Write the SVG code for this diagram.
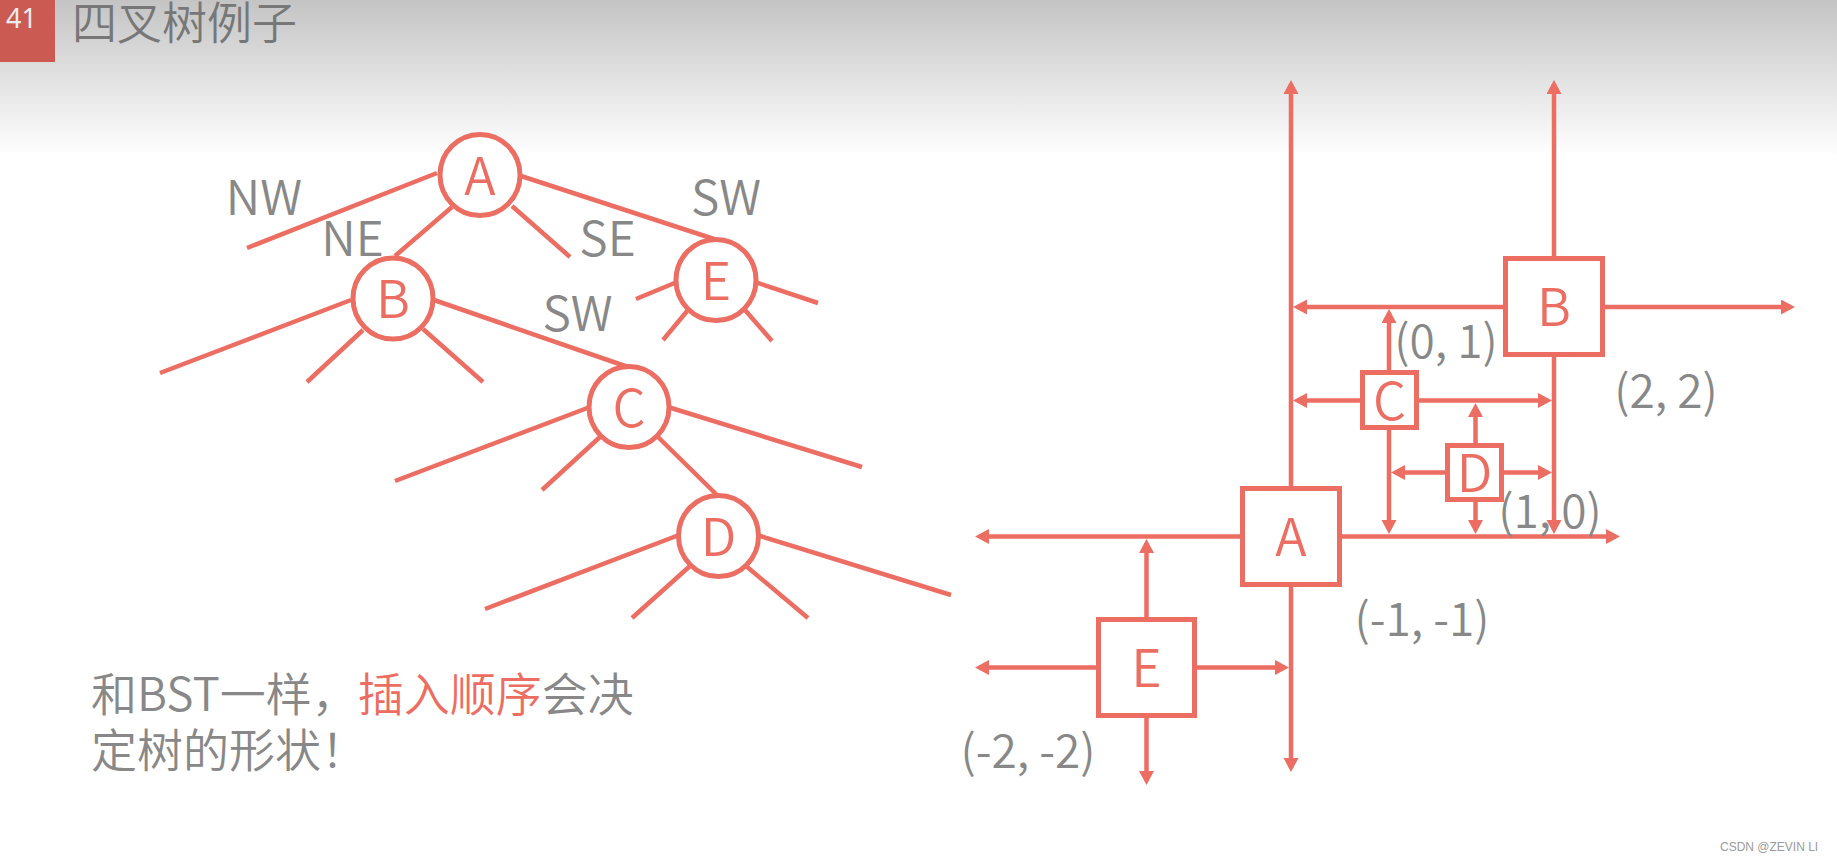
<svg xmlns="http://www.w3.org/2000/svg" width="1837" height="863" viewBox="0 0 1837 863">
  <defs>
    <linearGradient id="hdr" x1="0" y1="0" x2="0" y2="1">
      <stop offset="0" stop-color="#c4c4c4"/>
      <stop offset="1" stop-color="#ffffff"/>
    </linearGradient>
    <marker id="arr" markerUnits="userSpaceOnUse" markerWidth="16" markerHeight="16" refX="10" refY="7.5" orient="auto">
      <path d="M0,0 L14,7.5 L0,15 Z" fill="#ec6d62"/>
    </marker>
    <style>
      .tl { stroke: #ec6d62; stroke-width: 4.5; fill: none; }
      .cn { stroke: #ec6d62; stroke-width: 4.5; fill: none; marker-end: url(#arr); }
      .circ { fill: #ffffff; stroke: #ec6d62; stroke-width: 5; }
      .box { fill: #ffffff; stroke: #ec6d62; stroke-width: 5; }
      .nl { font-family: "Noto Sans CJK SC", "Noto Sans", sans-serif; font-weight: 350; font-size: 52px; fill: #ec6d62; text-anchor: middle; }
      .lbl { font-family: "Noto Sans CJK SC", "Noto Sans", sans-serif; font-weight: 350; font-size: 48px; fill: #888888; text-anchor: middle; }
      .crd { font-family: "Noto Sans CJK SC", "Noto Sans", sans-serif; font-weight: 350; font-size: 46px; fill: #888888; text-anchor: middle; }
      .body { font-family: "Noto Sans CJK SC", "Noto Sans", sans-serif; font-weight: 350; font-size: 46px; fill: #888888; }
    </style>
  </defs>

  <!-- header -->
  <rect x="0" y="0" width="1837" height="156" fill="url(#hdr)"/>
  <rect x="0" y="0" width="55" height="62" fill="#cb5a52"/>
  <text x="21.5" y="28" font-family="Noto Sans, sans-serif" font-size="27" fill="#ececec" text-anchor="middle">41</text>
  <text x="72" y="40" font-family="Noto Sans CJK SC, sans-serif" font-weight="350" font-size="45" fill="#777777">四叉树例子</text>

  <!-- tree edges -->
  <g id="tree-edges">
    <line class="tl" x1="437" y1="173" x2="247" y2="248"/>
    <line class="tl" x1="452" y1="207" x2="395" y2="256"/>
    <line class="tl" x1="512" y1="206" x2="570" y2="257"/>
    <line class="tl" x1="521" y1="176" x2="714" y2="239"/>
    <line class="tl" x1="351" y1="300" x2="160" y2="373"/>
    <line class="tl" x1="363" y1="330" x2="307" y2="382"/>
    <line class="tl" x1="423" y1="329" x2="483" y2="382"/>
    <line class="tl" x1="434" y1="300" x2="628" y2="367"/>
    <line class="tl" x1="677" y1="282" x2="636" y2="299"/>
    <line class="tl" x1="688" y1="310" x2="663" y2="340"/>
    <line class="tl" x1="745" y1="310" x2="772" y2="341"/>
    <line class="tl" x1="755" y1="282" x2="818" y2="303"/>
    <line class="tl" x1="590" y1="407" x2="395" y2="481"/>
    <line class="tl" x1="600" y1="437" x2="542" y2="490"/>
    <line class="tl" x1="658" y1="437" x2="718" y2="496"/>
    <line class="tl" x1="668" y1="407" x2="862" y2="467"/>
    <line class="tl" x1="679" y1="535" x2="485" y2="609"/>
    <line class="tl" x1="690" y1="566" x2="632" y2="618"/>
    <line class="tl" x1="746" y1="566" x2="808" y2="618"/>
    <line class="tl" x1="757" y1="535" x2="951" y2="595"/>
  </g>

  <!-- tree nodes -->
  <g id="tree-A"><ellipse class="circ" cx="480" cy="175" rx="40" ry="40.5"/><text class="nl" x="480" y="194.5">A</text></g>
  <g id="tree-B"><ellipse class="circ" cx="393" cy="298.5" rx="40" ry="40.5"/><text class="nl" x="393" y="318">B</text></g>
  <g id="tree-E"><ellipse class="circ" cx="716" cy="280" rx="40" ry="40.5"/><text class="nl" x="716" y="299.5">E</text></g>
  <g id="tree-C"><ellipse class="circ" cx="629" cy="407" rx="40" ry="40.5"/><text class="nl" x="629" y="426.5">C</text></g>
  <g id="tree-D"><ellipse class="circ" cx="718.5" cy="536" rx="40" ry="40.5"/><text class="nl" x="718.5" y="555.5">D</text></g>

  <!-- tree labels -->
  <g id="tree-labels">
    <text class="lbl" x="264" y="215">NW</text>
    <text class="lbl" x="352.5" y="256">NE</text>
    <text class="lbl" x="607.5" y="256">SE</text>
    <text class="lbl" x="726" y="215">SW</text>
    <text class="lbl" x="577.5" y="331">SW</text>
  </g>

  <!-- caption -->
  <g id="caption">
    <text class="body" x="91" y="711">和BST一样，<tspan fill="#ec6d62">插入顺序</tspan>会决</text>
    <text class="body" x="91" y="767">定树的形状！</text>
  </g>

  <!-- region connectors -->
  <g id="connectors">
    <line class="cn" x1="1291" y1="486" x2="1291" y2="84"/>
    <line class="cn" x1="1291" y1="587" x2="1291" y2="768"/>
    <line class="cn" x1="1240" y1="536.5" x2="979" y2="536.5"/>
    <line class="cn" x1="1342" y1="536.5" x2="1616" y2="536.5"/>
    <line class="cn" x1="1554" y1="256" x2="1554" y2="84"/>
    <line class="cn" x1="1554" y1="357" x2="1554" y2="530"/>
    <line class="cn" x1="1503" y1="307" x2="1297" y2="307"/>
    <line class="cn" x1="1605" y1="307" x2="1791" y2="307"/>
    <line class="cn" x1="1389" y1="370" x2="1389" y2="313"/>
    <line class="cn" x1="1389" y1="430" x2="1389" y2="530"/>
    <line class="cn" x1="1360" y1="400.5" x2="1297" y2="400.5"/>
    <line class="cn" x1="1419" y1="400.5" x2="1548" y2="400.5"/>
    <line class="cn" x1="1475.5" y1="443" x2="1475.5" y2="407"/>
    <line class="cn" x1="1475.5" y1="502" x2="1475.5" y2="530"/>
    <line class="cn" x1="1445" y1="472.5" x2="1395" y2="472.5"/>
    <line class="cn" x1="1504" y1="472.5" x2="1548" y2="472.5"/>
    <line class="cn" x1="1146.5" y1="617" x2="1146.5" y2="543"/>
    <line class="cn" x1="1146.5" y1="718" x2="1146.5" y2="781"/>
    <line class="cn" x1="1096" y1="667.5" x2="979" y2="667.5"/>
    <line class="cn" x1="1197" y1="667.5" x2="1285" y2="667.5"/>
  </g>

  <!-- region nodes -->
  <g id="box-A"><rect class="box" x="1242.5" y="488.5" width="97" height="96"/><text class="nl" x="1291" y="556">A</text></g>
  <g id="box-B"><rect class="box" x="1505.5" y="258.5" width="97" height="96"/><text class="nl" x="1554" y="326">B</text></g>
  <g id="box-C"><rect class="box" x="1362.5" y="372.5" width="54" height="55"/><text class="nl" x="1389.5" y="419.5">C</text></g>
  <g id="box-D"><rect class="box" x="1447.5" y="445.5" width="54" height="54"/><text class="nl" x="1474.5" y="491.5">D</text></g>
  <g id="box-E"><rect class="box" x="1098.5" y="619.5" width="96" height="96"/><text class="nl" x="1146.5" y="686.5">E</text></g>

  <!-- coordinate labels -->
  <g id="coords">
    <text class="crd" x="1446" y="358">(0, 1)</text>
    <text class="crd" x="1666" y="408">(2, 2)</text>
    <text class="crd" x="1550" y="528">(1, 0)</text>
    <text class="crd" x="1422" y="636">(-1, -1)</text>
    <text class="crd" x="1028" y="768">(-2, -2)</text>
  </g>

  <text x="1720" y="851" font-family="Liberation Sans, Arial, sans-serif" font-size="12" fill="#9a9a9a">CSDN @ZEVIN LI</text>
</svg>
